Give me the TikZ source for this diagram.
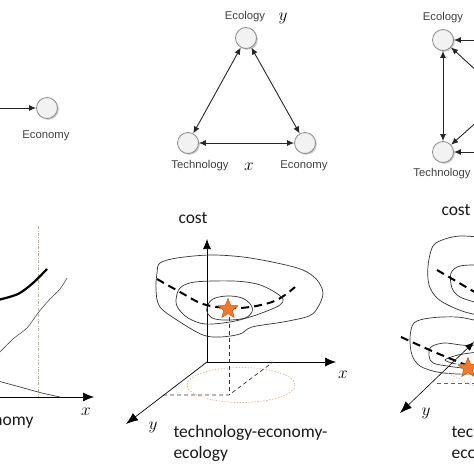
\documentclass[tikz,border=0pt]{standalone}
\usepackage{fontspec}
\setmainfont{Carlito}
\newfontfamily\arialf{Liberation Sans}
\usetikzlibrary{arrows.meta,shapes.geometric,shadows}
\definecolor{nodefill}{HTML}{F2F2F2}
\definecolor{nodeline}{HTML}{8C8C8C}
\definecolor{starfill}{HTML}{EE7A2E}
\definecolor{starline}{HTML}{C25A17}
\definecolor{peach}{HTML}{E9BFA3}
\definecolor{guide}{HTML}{C9AE92}
\begin{document}
\begin{tikzpicture}[x=1pt,y=-1pt,
  gnode/.style={circle,draw=nodeline,fill=nodefill,line width=0.8pt,minimum size=21pt,inner sep=0pt,
    drop shadow={shadow xshift=1.3pt,shadow yshift=-1.3pt,fill=black!35,opacity=0.6}},
  glabel/.style={font=\arialf\fontsize{11.3}{13}\selectfont,text=black!75},
  mathlbl/.style={font=\fontsize{17}{19}\selectfont},
  link/.style={draw=black!85,line width=0.9pt,{Latex[length=7pt,width=6pt]}-{Latex[length=7pt,width=6pt]}},
  onelink/.style={draw=black!85,line width=0.9pt,-{Latex[length=7pt,width=6pt]}},
  axis/.style={draw=black,line width=0.7pt,-{Latex[length=11pt,width=9pt]}},
  contour/.style={draw=black!80,line width=0.7pt},
  bigdash/.style={draw=black,line width=2pt,dash pattern=on 8pt off 5pt},
  floordash/.style={draw=black!80,line width=0.7pt,dash pattern=on 4pt off 3pt},
  caption/.style={font=\fontsize{17.5}{21}\selectfont,text=black!90},
  optstar/.style={star,star points=5,star point ratio=2.3,fill=starfill,draw=starline,line width=0.5pt,minimum size=21pt,inner sep=0pt}
]
\useasboundingbox (0,0) rectangle (474,474);
\clip (0,0) rectangle (474,474);

% ---------- top left ----------
\coordinate (l0) at (-6,108);
\node[gnode] (econL) at (47,108) {};
\node[glabel] (econLt) at (46,136) {Economy};
\draw[onelink] (l0) -- (econL);

% ---------- top middle ----------
\node[gnode] (ecoM) at (246,38) {};
\node[gnode] (tecM) at (188,143) {};
\node[gnode] (ecnM) at (305,143) {};
\node[glabel] (ecoMt) at (245,17) {Ecology};
\node[glabel] (tecMt) at (200,166) {Technology};
\node[glabel] (ecnMt) at (304,166) {Economy};
\node[mathlbl] (yM) at (283,18) {$y$};
\node[mathlbl] (xM) at (249,167) {$x$};
\draw[link] (ecoM) -- (tecM);
\draw[link] (ecoM) -- (ecnM);
\draw[link] (tecM) -- (ecnM);

% ---------- top right ----------
\node[gnode] (ecoR) at (443,40) {};
\node[gnode] (tecR) at (443,152) {};
\node[glabel] (ecoRt) at (443,18) {Ecology};
\node[glabel] (tecRt) at (442,174) {Technology};
\coordinate (r1) at (480,40);
\coordinate (r2) at (480,74);
\coordinate (r3) at (480,119);
\coordinate (r4) at (480,152);
\draw[link] (ecoR) -- (tecR);
\draw[onelink] (r1) -- (ecoR);
\draw[onelink] (r2) -- (ecoR);
\draw[onelink] (r3) -- (tecR);
\draw[onelink] (r4) -- (tecR);

% ---------- bottom left ----------
\coordinate (lo) at (-5,397);
\coordinate (lx) at (94,397);
\draw[axis] (lo) -- (lx);
\node[mathlbl] (xL) at (86,412) {$x$};
\draw[guide,line width=0.6pt,dash pattern=on 3pt off 1.5pt on 0.8pt off 1.5pt] (38,226) -- (38,397);
\draw[line width=2.2pt] plot[smooth,tension=0.5] coordinates {(-2,300) (18,294) (33,283) (47,269)};
\draw[black!70,line width=0.6pt] plot[smooth,tension=0.5] coordinates {(-2,354) (13,339) (27,328) (38,313) (50,299) (60,289) (67,278)};
\draw[black!75,line width=0.7pt] plot[smooth,tension=0.6] coordinates {(-2,381) (20,387) (42,393) (60,397)};
\node[caption,anchor=base east] (capL) at (37,425) {economy};

% ---------- bottom middle ----------
\coordinate (mo) at (207,362);
\coordinate (mz) at (207,239);
\coordinate (mx) at (336,362);
\coordinate (my) at (126,424);
\draw[axis,-{Latex[length=10pt,width=8pt]}] (mo) -- (mz);
\draw[axis] (mo) -- (mx);
\draw[axis,-{Latex[length=12pt,width=9pt]}] (mo) -- (my);
\node[caption] (costM) at (193,218) {cost};
\node[mathlbl] (xM2) at (343,375) {$x$};
\node[mathlbl] (yM2) at (153,427) {$y$};
\draw[peach,line width=0.8pt,dash pattern=on 1.5pt off 1.5pt] (241,385) ellipse [x radius=54,y radius=17.5];
\coordinate (pf) at (229,395);
\coordinate (pl) at (163,395);
\coordinate (px) at (273,362);
\draw[floordash] (pl) -- (pf) -- (px);
\draw[contour] plot[smooth cycle,tension=0.55] coordinates {(160,263) (177,258) (210,255) (243,257) (277,263) (303,270) (317,280) (323,293) (318,307) (309,316) (283,322) (252,327) (240,334) (220,337) (203,335) (180,322) (160,307) (156,290) (157,273)};
\draw[contour] plot[smooth cycle,tension=0.55] coordinates {(176,300) (180,288) (195,282) (233,281) (257,284) (273,291) (283,299) (280,305) (267,311) (250,317) (230,322) (205,324) (188,318) (178,308)};
\draw[contour] plot[smooth cycle,tension=0.6] coordinates {(207,307) (213,299) (227,296) (242,298) (251,305) (252,312) (245,318) (230,320) (215,319) (208,314)};
\draw[bigdash] plot[smooth,tension=0.6] coordinates {(157,279) (180,292) (203,304) (228,308) (250,307) (272,302) (285,295) (295,287)};
\node[optstar] (starM) at (228,309) {};
\draw[floordash] (starM.center) ++(1,8) -- (pf);

% ---------- bottom right ----------
\draw[contour] plot[smooth,tension=0.55] coordinates {(478,237) (460,236) (445,239) (433,246) (428,266) (429,285) (437,298) (450,306) (465,312) (478,315)};
\draw[contour] plot[smooth,tension=0.55] coordinates {(478,265) (460,266) (451,273) (452,288) (460,297) (478,303)};
\draw[bigdash] plot[smooth] coordinates {(437,270) (478,294)};
\draw[contour] plot[smooth,tension=0.55] coordinates {(478,321) (457,317) (430,318) (414,323) (410,338) (412,355) (420,366) (437,372) (457,374) (478,374)};
\draw[contour] plot[smooth,tension=0.55] coordinates {(478,346) (461,345) (444,343) (431,347) (429,356) (433,363) (447,366) (462,368)};
\draw[contour] plot[smooth,tension=0.55] coordinates {(478,352) (458,355) (445,360) (456,364)};
\draw[bigdash] plot[smooth] coordinates {(401,337) (432,351) (466,365)};
\draw[floordash,black!60] (437,383) -- (478,383);
\draw[peach,line width=0.8pt,dash pattern=on 1.5pt off 1.5pt] (445,372) -- (478,388);
\coordinate (ro) at (474,342);
\coordinate (ry) at (400,413);
\draw[axis,line width=0.6pt,{Latex[length=9pt,width=7pt]}-{Latex[length=12pt,width=9pt]}] (ro) -- (ry);
\node[optstar] (starR) at (468,368) {};
\node[caption] (costR) at (456,210) {cost};
\node[mathlbl] (yR) at (426,413) {$y$};

% captions
\node[caption,anchor=base west] (capM1) at (170,437) {technology-economy-};
\node[caption,anchor=base west] (capM2) at (170,458) {ecology};
\node[caption,anchor=base west] (capR1) at (448,437) {technology-economy-};
\node[caption,anchor=base west] (capR2) at (448,458) {ecology};
\end{tikzpicture}
\end{document}
